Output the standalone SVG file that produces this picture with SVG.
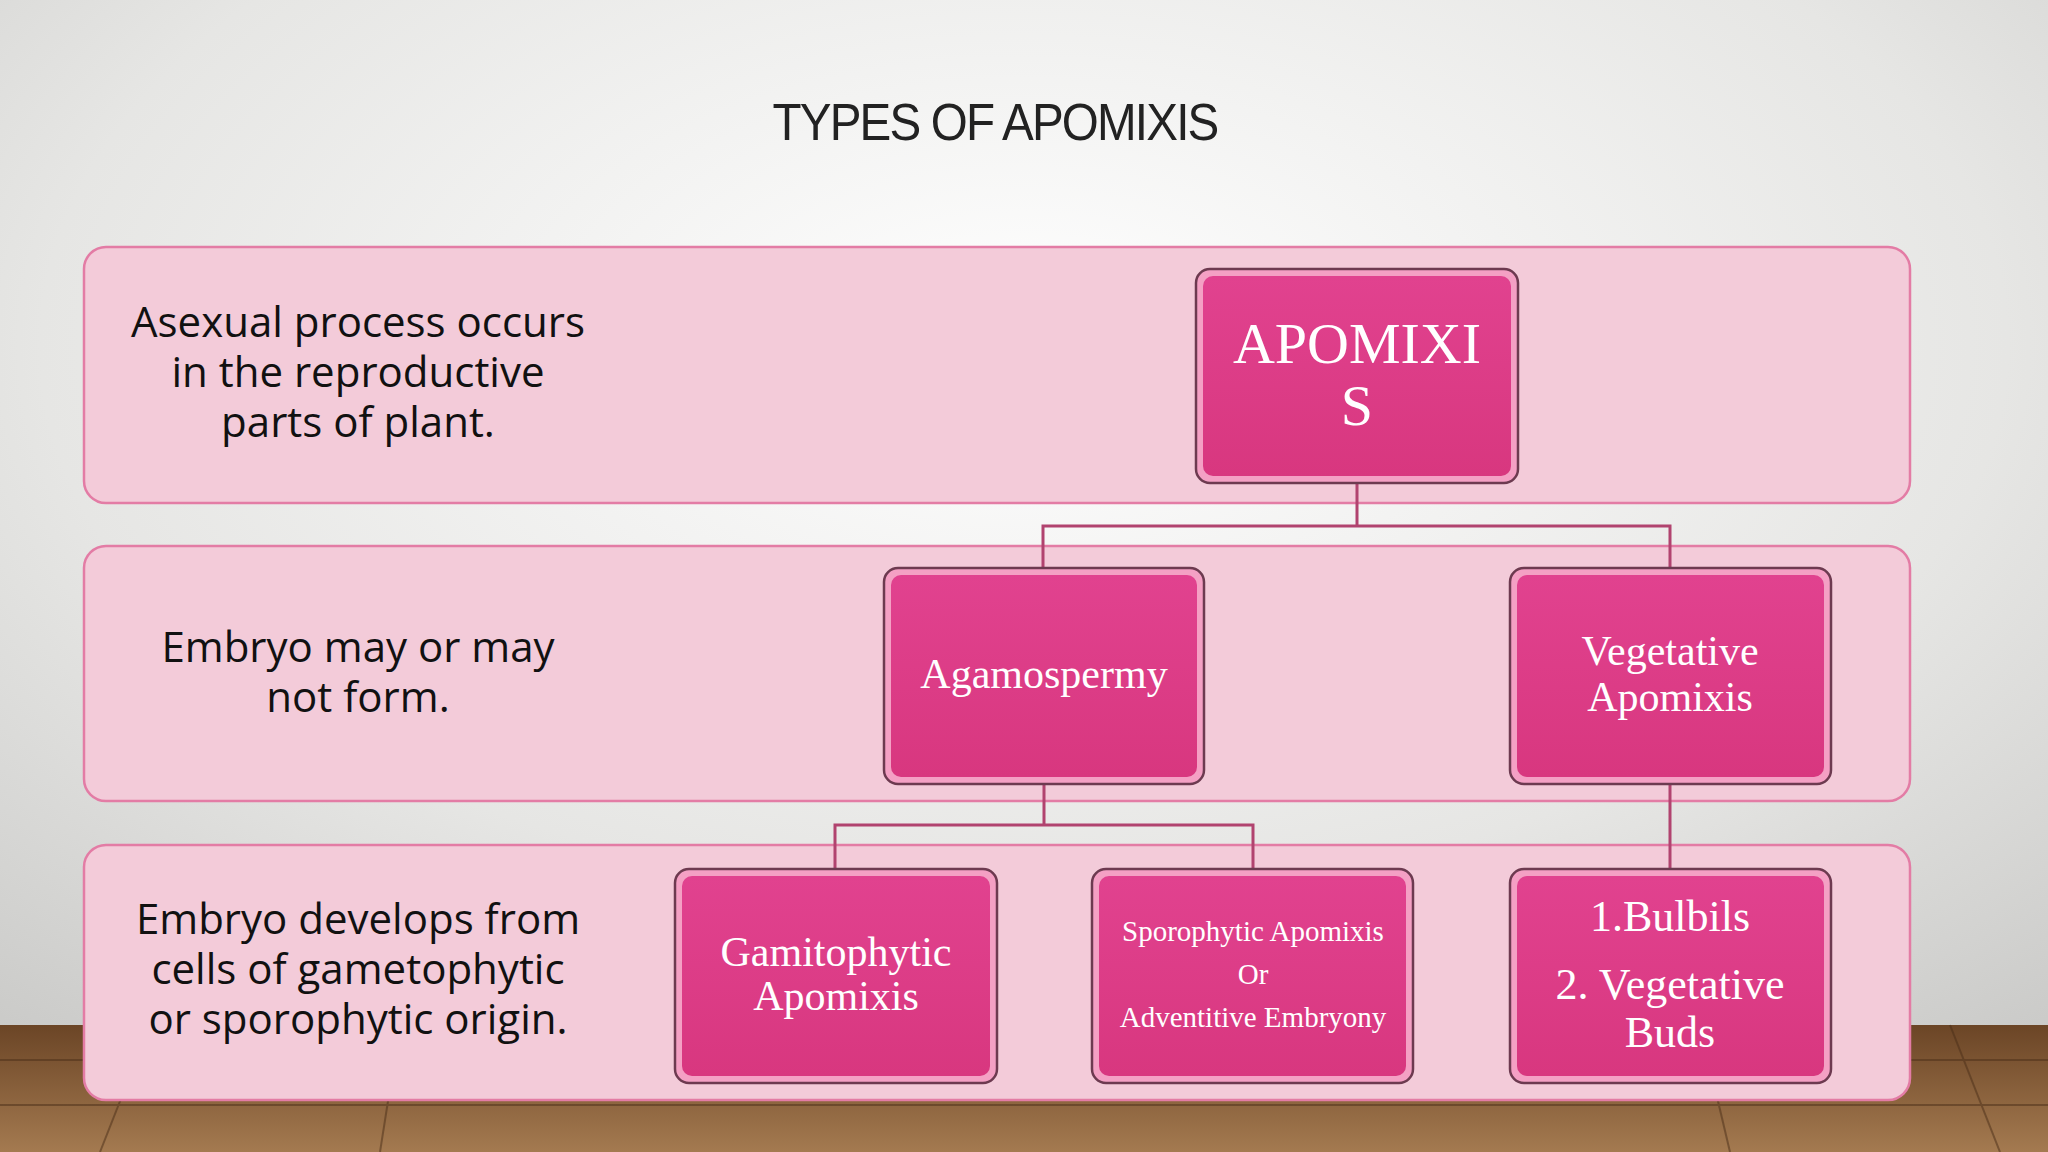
<svg xmlns="http://www.w3.org/2000/svg" width="2048" height="1152" viewBox="0 0 2048 1152">
<defs>
<radialGradient id="bg" cx="0.5" cy="0.3" r="0.8"><stop offset="0" stop-color="#ffffff"/><stop offset="0.6" stop-color="#e6e6e4"/><stop offset="1" stop-color="#c8c8c6"/></radialGradient>
<linearGradient id="wood" x1="0" y1="0" x2="0" y2="1"><stop offset="0" stop-color="#6b4526"/><stop offset="1" stop-color="#a47a50"/></linearGradient>
<linearGradient id="nd" x1="0" y1="0" x2="0" y2="1"><stop offset="0" stop-color="#e1428f"/><stop offset="1" stop-color="#d8377f"/></linearGradient>
</defs>
<style>
.band{fill:#f3cbd9;stroke:#e37ca5;stroke-width:2.5}
.node rect.o{fill:#f4a0c4;stroke:#6d3a50;stroke-width:2.5}
.node rect.i{fill:url(#nd)}
.nt{font-family:"Liberation Serif",serif;fill:#fff;text-anchor:middle}
.lt{font-family:"Open Sans","Noto Sans",sans-serif;fill:#111;font-size:42px;text-anchor:middle}
.c{fill:none;stroke:#b1436f;stroke-width:3}
</style>
<rect width="2048" height="1152" fill="url(#bg)"/>
<rect y="1025" width="2048" height="127" fill="url(#wood)"/>
<g stroke="#4a2e18" stroke-width="2" opacity="0.5">
<line x1="0" y1="1060" x2="2048" y2="1060"/><line x1="0" y1="1105" x2="2048" y2="1105"/>
<line x1="150" y1="1025" x2="100" y2="1152"/><line x1="400" y1="1025" x2="380" y2="1152"/><line x1="1700" y1="1025" x2="1730" y2="1152"/><line x1="1950" y1="1025" x2="2000" y2="1152"/>
</g>
<text x="995" y="140" font-family="'Liberation Sans Narrow','Liberation Sans',sans-serif" font-size="52" fill="#222" text-anchor="middle" letter-spacing="-2" textLength="445" lengthAdjust="spacingAndGlyphs">TYPES OF APOMIXIS</text>
<g id="bands">
<rect class="band" x="84" y="247" width="1826" height="256" rx="22"/>
<rect class="band" x="84" y="546" width="1826" height="255" rx="22"/>
<rect class="band" x="84" y="845" width="1826" height="255" rx="22"/>
</g>
<g id="labels">
<text class="lt" x="358" y="337">Asexual process occurs</text>
<text class="lt" x="358" y="387">in the reproductive</text>
<text class="lt" x="358" y="437">parts of plant.</text>
<text class="lt" x="358" y="662">Embryo may or may</text>
<text class="lt" x="358" y="712">not form.</text>
<text class="lt" x="358" y="934">Embryo develops from</text>
<text class="lt" x="358" y="984">cells of gametophytic</text>
<text class="lt" x="358" y="1034">or sporophytic origin.</text>
</g>
<g id="connectors">
<path class="c" d="M1357 483V526M1043 568V526H1670V568"/>
<path class="c" d="M1044 784V825M835 869V825H1253V869"/>
<path class="c" d="M1670 784V869"/>
</g>
<g id="n-apomixis" class="node"><rect class="o" x="1196" y="269" width="322" height="214" rx="14"/><rect class="i" x="1203" y="276" width="308" height="200" rx="10"/>
<text class="nt" x="1357" y="363" font-size="58">APOMIXI</text><text class="nt" x="1357" y="425" font-size="58">S</text></g>
<g id="n-agamospermy" class="node"><rect class="o" x="884" y="568" width="320" height="216" rx="14"/><rect class="i" x="891" y="575" width="306" height="202" rx="10"/>
<text class="nt" x="1044" y="688" font-size="42">Agamospermy</text></g>
<g id="n-vegetative" class="node"><rect class="o" x="1510" y="568" width="321" height="216" rx="14"/><rect class="i" x="1517" y="575" width="307" height="202" rx="10"/>
<text class="nt" x="1670" y="665" font-size="42">Vegetative</text><text class="nt" x="1670" y="711" font-size="42">Apomixis</text></g>
<g id="n-gamitophytic" class="node"><rect class="o" x="675" y="869" width="322" height="214" rx="14"/><rect class="i" x="682" y="876" width="308" height="200" rx="10"/>
<text class="nt" x="836" y="966" font-size="42">Gamitophytic</text><text class="nt" x="836" y="1010" font-size="42">Apomixis</text></g>
<g id="n-sporophytic" class="node"><rect class="o" x="1092" y="869" width="321" height="214" rx="14"/><rect class="i" x="1099" y="876" width="307" height="200" rx="10"/>
<text class="nt" x="1253" y="941" font-size="29">Sporophytic Apomixis</text><text class="nt" x="1253" y="984" font-size="29">Or</text><text class="nt" x="1253" y="1027" font-size="29">Adventitive Embryony</text></g>
<g id="n-bulbils" class="node"><rect class="o" x="1510" y="869" width="321" height="214" rx="14"/><rect class="i" x="1517" y="876" width="307" height="200" rx="10"/>
<text class="nt" x="1670" y="931" font-size="44">1.Bulbils</text><text class="nt" x="1670" y="999" font-size="44">2. Vegetative</text><text class="nt" x="1670" y="1047" font-size="44">Buds</text></g>
</svg>
